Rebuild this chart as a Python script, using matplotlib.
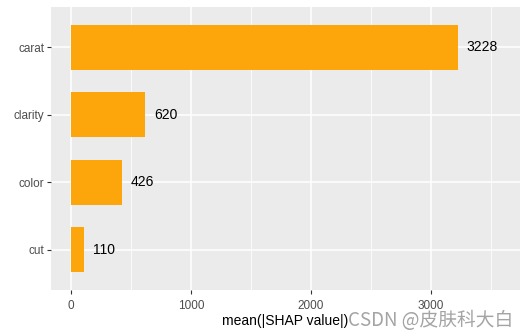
import matplotlib.pyplot as plt

# data
features = ["cut", "color", "clarity", "carat"]
shap_means = [110, 426, 620, 3228]
x_ticks = [0, 1000, 2000, 3000]

plt.rcParams['font.family'] = ['Liberation Sans', 'DejaVu Sans']

fig = plt.figure(figsize=(5.28, 3.36), dpi=100)
ax = fig.add_axes([51 / 528, 1 - 290 / 336, 469 / 528, 283 / 336])
ax.set_facecolor('#EBEBEB')

ypos = list(range(1, len(features) + 1))
ax.barh(ypos, shap_means, height=0.67, color='#FCA60C', zorder=3)

for y, v in zip(ypos, shap_means):
    ax.annotate(str(v), (v, y), xytext=(6, 0), textcoords='offset points',
                ha='left', va='center', fontsize=10, color='black', zorder=4)

ax.set_xlim(-167, 3742)
ax.set_ylim(0.4, 4.6)
ax.set_xticks(x_ticks)
ax.set_xticks([500, 1500, 2500, 3500], minor=True)
ax.set_yticks(ypos)
ax.set_yticklabels(features)

ax.grid(True, which='major', color='white', linewidth=1.1, zorder=0)
ax.grid(True, which='minor', axis='x', color='white', linewidth=0.55, zorder=0)
ax.tick_params(axis='both', which='major', length=3, color='#333333',
               labelcolor='#4D4D4D', labelsize=8.5, pad=2)
ax.tick_params(axis='x', which='major', pad=4)
ax.tick_params(axis='x', which='minor', length=0)
for s in ax.spines.values():
    s.set_visible(False)

ax.set_xlabel("mean(|SHAP value|)", fontsize=10, color='black', labelpad=2)

fig.text(0.972, 0.045, "CSDN @皮肤科大白", ha='right', va='center', fontsize=13.5,
         color='#9A9A9A', alpha=0.9, family=['Noto Sans CJK SC', 'DejaVu Sans'])

fig.savefig("out.png", dpi=100)
